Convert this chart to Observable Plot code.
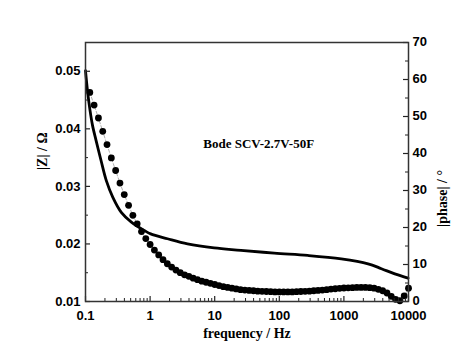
<!DOCTYPE html>
<html><head><meta charset="utf-8">
<script src="https://cdn.jsdelivr.net/npm/d3@7"></script>
<script src="https://cdn.jsdelivr.net/npm/@observablehq/plot@0.6"></script>
<style>body{margin:0;background:#fff}</style>
</head><body><div id="chart"></div>
<script>
// |Z| series (solid line)
const freqZ = [0.1, 0.1074, 0.1175, 0.1284, 0.1456, 0.174, 0.21, 0.265, 0.358, 0.513, 0.824, 1.02, 1.86, 3.79, 9.8, 25.5, 83.5, 276, 911, 2365, 3810, 6140, 9860];
const impedance = [0.0501, 0.0466, 0.0432, 0.0406, 0.0380, 0.0345, 0.0310, 0.0281, 0.0255, 0.0238, 0.0223, 0.02175, 0.0209, 0.0200, 0.0193, 0.0189, 0.0184, 0.0180, 0.0174, 0.01655, 0.0157, 0.0148, 0.01405];

// |phase| series (dots)
const freqPhase = [
  0.1166, 0.1359, 0.1585, 0.1848, 0.2154, 0.2512, 0.2929, 0.3415, 0.3981, 0.4642, 0.5412, 0.631, 0.7356, 0.8577,
  1, 1.166, 1.359, 1.585, 1.848, 2.154, 2.512, 2.929, 3.415, 3.981, 4.642, 5.412, 6.31, 7.356, 8.577,
  10, 11.66, 13.59, 15.85, 18.48, 21.54, 25.12, 29.29, 34.15, 39.81, 46.42, 54.12, 63.1, 73.56, 85.77,
  100, 116.6, 135.9, 158.5, 184.8, 215.4, 251.2, 292.9, 341.5, 398.1, 464.2, 541.2, 631, 735.6, 857.7,
  1000, 1166, 1359, 1585, 1848, 2154, 2512, 2929, 3415, 3981, 4642, 5412, 6310, 7356, 8577, 10000
];
const phase = [
  56.5, 53.1, 49.6, 46.0, 42.4, 38.8, 35.4, 32.0, 28.9, 26.0, 23.3, 21.0, 18.9, 17.0,
  15.4, 13.9, 12.6, 11.3, 10.2, 9.3, 8.5, 7.8, 7.2, 6.8, 6.3, 5.9, 5.5, 5.2, 4.9,
  4.6, 4.3, 4.0, 3.8, 3.6, 3.4, 3.2, 3.1, 3.0, 2.9, 2.8, 2.75, 2.7, 2.65, 2.6,
  2.6, 2.6, 2.6, 2.6, 2.65, 2.7, 2.75, 2.8, 2.9, 3.0, 3.1, 3.2, 3.35, 3.45, 3.55,
  3.65, 3.7, 3.75, 3.8, 3.8, 3.8, 3.75, 3.6, 3.3, 2.9, 2.3, 1.4, 0.6, 0.2, 1.5, 3.6
];

const xTicks = [0.1, 1, 10, 100, 1000, 10000];
const zTicks = [0.01, 0.02, 0.03, 0.04, 0.05];
const zMinor = [0.015, 0.025, 0.035, 0.045];
const phaseTicks = [0, 10, 20, 30, 40, 50, 60, 70];
const phaseMinor = [5, 15, 25, 35, 45, 55, 65];
const annotation = "Bode SCV-2.7V-50F";

const W = 474, H = 362, mL = 85, mR = 66, mT = 42, mB = 61;
const fw = W - mL - mR, fh = H - mT - mB;

const toZ = d3.scaleLinear([0, 70], [0.01, 0.055]);

const xMinor = [];
for (const dec of [0.1, 1, 10, 100, 1000]) for (let m = 2; m <= 9; m++) xMinor.push(+(dec * m).toPrecision(3));

const zData = freqZ.map((f, i) => ({f, z: impedance[i]}));
const pData = freqPhase.map((f, i) => ({f, z: toZ(phase[i])}));

const sans = "Liberation Sans, Arial, sans-serif";
const serif = "Liberation Serif, Times New Roman, serif";
const ink = "#222";

const chart = Plot.plot({
  width: W, height: H,
  marginLeft: mL, marginRight: mR, marginTop: mT, marginBottom: mB,
  style: {fontFamily: sans, fontSize: "13px", background: "#fff", color: "#000"},
  x: {type: "log", domain: [0.1, 10000]},
  y: {domain: [0.01, 0.055]},
  marks: [
    // data
    Plot.line(pData, {x: "f", y: "z", stroke: "#999", strokeWidth: 0.8, strokeDasharray: "3,2"}),
    Plot.dot(pData, {x: "f", y: "z", r: 3.4, fill: "#000", stroke: "none"}),
    Plot.line(zData, {x: "f", y: "z", stroke: "#000", strokeWidth: 2.8, curve: "catmull-rom"}),
    // inward ticks
    Plot.tickX(xTicks, {x: d => d, insetTop: fh - 5, stroke: ink, strokeWidth: 1.2}),
    Plot.tickX(xMinor, {x: d => d, insetTop: fh - 3, stroke: ink, strokeWidth: 1}),
    Plot.tickY(zTicks, {y: d => d, insetRight: fw - 5, stroke: ink, strokeWidth: 1.2}),
    Plot.tickY(zMinor, {y: d => d, insetRight: fw - 3, stroke: ink, strokeWidth: 1}),
    Plot.tickY(phaseTicks.map(toZ), {y: d => d, insetLeft: fw - 5, stroke: ink, strokeWidth: 1.2}),
    Plot.tickY(phaseMinor.map(toZ), {y: d => d, insetLeft: fw - 3, stroke: ink, strokeWidth: 1}),
    Plot.frame({stroke: "#333", strokeWidth: 1.5}),
    // axis labels (tick text)
    Plot.axisX(xTicks, {tickSize: 0, tickPadding: 9, tickFormat: d => String(d), label: null, fontWeight: "bold", fontSize: 13, fill: "#000"}),
    Plot.axisY(zTicks, {anchor: "left", tickSize: 0, tickPadding: 5, tickFormat: d => d.toFixed(2), label: null, fontWeight: "bold", fontSize: 13, fill: "#000"}),
    Plot.axisY(phaseTicks.map(toZ), {anchor: "right", tickSize: 0, tickPadding: 4, dy: -1, tickFormat: d => String(Math.round(toZ.invert(d))), label: null, fontWeight: "bold", fontSize: 13, fill: "#000"}),
    // titles
    Plot.text(["|Z| / Ω"], {text: d => d, frameAnchor: "left", dx: -43, dy: -2, rotate: -90, fontFamily: serif, fontWeight: "bold", fontSize: 14, fill: "#000"}),
    Plot.text(["|phase| / °"], {text: d => d, frameAnchor: "right", dx: 34, dy: -2, rotate: -90, fontFamily: serif, fontWeight: "bold", fontSize: 14, fill: "#000"}),
    Plot.text(["frequency / Hz"], {text: d => d, frameAnchor: "bottom", dy: 36, fontFamily: serif, fontWeight: "bold", fontSize: 14, fill: "#000"}),
    Plot.text([annotation], {text: d => d, x: () => 48, y: () => 0.0374, fontFamily: serif, fontWeight: "bold", fontSize: 13, fill: "#000"})
  ]
});
document.getElementById("chart").appendChild(chart);
</script>
</body></html>
